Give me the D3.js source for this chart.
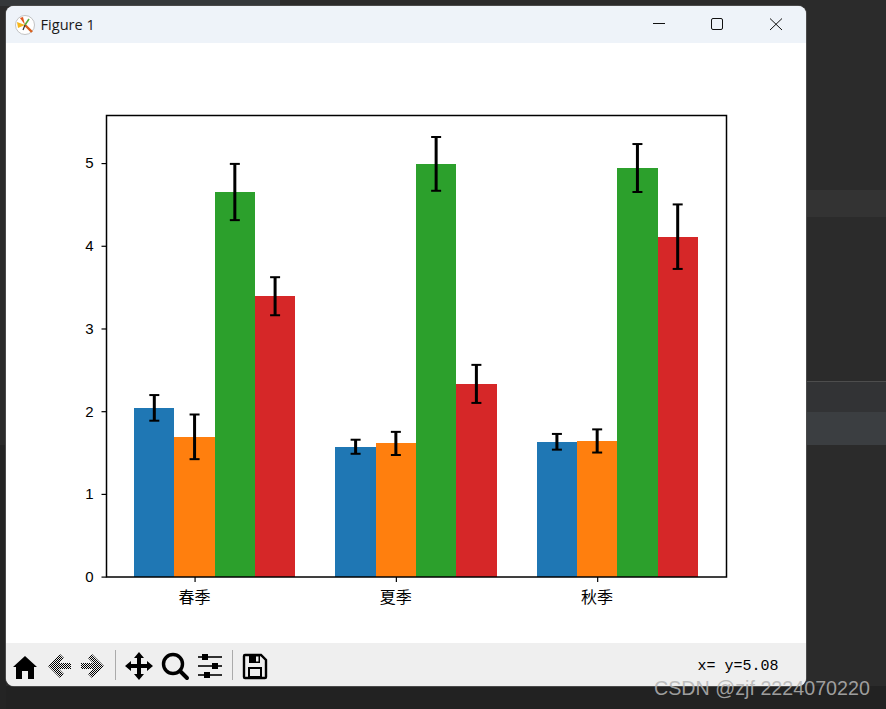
<!DOCTYPE html>
<html><head><meta charset="utf-8">
<style>html,body{margin:0;padding:0;background:#2b2b2b;overflow:hidden}svg{display:block}</style>
<script src="https://cdn.jsdelivr.net/npm/d3@7/dist/d3.min.js"></script></head>
<body><svg id="c" width="886" height="709"></svg>
<script>
const categories = ["春季","夏季","秋季"];
const seriesColors = ["#1f77b4","#ff7f0e","#2ca02c","#d62728"];
const series1 = [2.04,1.57,1.63];
const series2 = [1.69,1.61,1.64];
const series3 = [4.65,4.99,4.94];
const series4 = [3.39,2.33,4.11];
const err1 = [0.155,0.085,0.095];
const err2 = [0.27,0.14,0.14];
const err3 = [0.34,0.325,0.29];
const err4 = [0.23,0.23,0.39];
const seriesValues = [series1,series2,series3,series4];
const seriesErrors = [err1,err2,err3,err4];
const barOffsets = [-0.2,0,0.2,0.4];
const barWidth = 0.2;
const yTicks = [0,1,2,3,4,5];

const svg = d3.select("#c");
// surrounding desktop
svg.append("rect").attr("width",886).attr("height",709).attr("fill","#2b2b2b");
svg.append("rect").attr("x",806).attr("y",190).attr("width",80).attr("height",27).attr("fill","#333333");
svg.append("rect").attr("x",806).attr("y",381).attr("width",80).attr("height",31).attr("fill","#323335");
svg.append("rect").attr("x",806).attr("y",412).attr("width",80).attr("height",33).attr("fill","#3b3e41");
svg.append("rect").attr("x",806).attr("y",381).attr("width",80).attr("height",1).attr("fill","#4d4d4d");
svg.append("rect").attr("x",0).attr("y",686).attr("width",886).attr("height",23).attr("fill","#222222");
svg.append("rect").attr("x",0).attr("y",445).attr("width",6).attr("height",264).attr("fill","#242424");
svg.append("rect").attr("x",0).attr("y",0).attr("width",280).attr("height",6).attr("fill","#35383a");
// window
const clip = svg.append("defs").append("clipPath").attr("id","win");
clip.append("rect").attr("x",6).attr("y",6).attr("width",800).attr("height",680).attr("rx",8);
svg.append("rect").attr("x",5).attr("y",5).attr("width",802).attr("height",682).attr("rx",9).attr("fill","#4a4a4a");
const win = svg.append("g").attr("clip-path","url(#win)");
win.append("rect").attr("x",6).attr("y",6).attr("width",800).attr("height",680).attr("fill","#ffffff");
win.append("rect").attr("x",6).attr("y",6).attr("width",800).attr("height",37).attr("fill","#eef3f9");
win.append("rect").attr("x",6).attr("y",643).attr("width",800).attr("height",43).attr("fill","#efefef");
// title bar
const ic = svg.append("g").attr("transform","translate(25,25)");
ic.append("circle").attr("r",9.5).attr("fill","#fff").attr("stroke","#aaa").attr("stroke-width",.7);
ic.append("path").attr("d","M0,0L-5,-7L-2,-8Z").attr("fill","#e0561b");
ic.append("path").attr("d","M0,0L-8,-3L-7,3Z").attr("fill","#f6b61c");
ic.append("path").attr("d","M0,0L7,7").attr("stroke","#d8601f").attr("stroke-width",2.4);
ic.append("path").attr("d","M0,0L4,-6").attr("stroke","#5aae3a").attr("stroke-width",1.6);
ic.append("path").attr("d","M0,0L-2,5").attr("stroke","#333").attr("stroke-width",1.2);
svg.append("text").attr("x",40.5).attr("y",30).attr("font-family","'Open Sans','Noto Sans',sans-serif").attr("font-size",14.6).attr("fill","#1a1a1a").text("Figure 1");
svg.append("path").attr("d","M653,23.5H665").attr("stroke","#111").attr("stroke-width",1);
svg.append("rect").attr("x",711.5).attr("y",18.5).attr("width",11).attr("height",11).attr("rx",1.5).attr("fill","none").attr("stroke","#111").attr("stroke-width",1);
svg.append("path").attr("d","M770,18.5L782,30M782,18.5L770,30").attr("stroke","#111").attr("stroke-width",1);

// chart
const x = d3.scaleLinear().domain([-0.44,2.64]).range([106,726]);
const y = d3.scaleLinear().domain([0,5.58]).range([576.6,115.1]);
const g = svg.append("g");
seriesValues.forEach((vals,s)=>{
  g.selectAll(null).data(vals).join("rect")
    .attr("x",(d,i)=>x(i+barOffsets[s]-barWidth/2))
    .attr("width",x(barWidth)-x(0))
    .attr("y",d=>y(d)).attr("height",d=>y(0)-y(d))
    .attr("fill",seriesColors[s]).attr("shape-rendering","crispEdges");
});
seriesValues.forEach((vals,s)=>{
  vals.forEach((v,i)=>{
    const e=seriesErrors[s][i], cx=x(i+barOffsets[s]);
    g.append("line").attr("x1",cx).attr("x2",cx).attr("y1",y(v-e)).attr("y2",y(v+e)).attr("stroke","#000").attr("stroke-width",3);
    [v-e,v+e].forEach(k=>g.append("line").attr("x1",cx-5).attr("x2",cx+5).attr("y1",y(k)).attr("y2",y(k)).attr("stroke","#000").attr("stroke-width",2));
  });
});
svg.append("rect").attr("x",106.5).attr("y",115.5).attr("width",620).attr("height",461.5).attr("fill","none").attr("stroke","#000").attr("stroke-width",1.5);
const yAxis = d3.axisLeft(y).tickValues(yTicks).tickSize(5).tickPadding(8).tickFormat(d3.format("d"));
const ya = svg.append("g").attr("transform","translate(106.5,0)").call(yAxis);
ya.select(".domain").remove();
ya.selectAll("text").attr("font-family","'Liberation Sans',Arial,sans-serif").attr("font-size",15).attr("fill","#000");
const xAxis = d3.axisBottom(x).tickValues(d3.range(categories.length)).tickSize(5).tickPadding(10).tickFormat(i=>categories[i]);
const xa = svg.append("g").attr("transform","translate(0,577)").call(xAxis);
xa.select(".domain").remove();
xa.selectAll("text").attr("font-family","'Noto Sans CJK SC',sans-serif").attr("font-size",16).attr("fill","#000").attr("dx",-0.6);
svg.selectAll(".tick line").attr("stroke","#000").attr("stroke-width",1.2);

// toolbar
const tb = svg.append("g");
tb.append("path").attr("d","M25,656L13,667L16,667L16,679L22,679L22,671L28,671L28,679L34,679L34,667L37,667Z").attr("fill","#000");
const dots = svg.select("defs").append("pattern").attr("id","dith").attr("width",2).attr("height",2).attr("patternUnits","userSpaceOnUse");
dots.append("rect").attr("width",1).attr("height",1).attr("fill","#000");
dots.append("rect").attr("x",1).attr("y",1).attr("width",1).attr("height",1).attr("fill","#000");
tb.append("path").attr("d","M60,654L48,666L60,678L64,674L59,669L71,669L71,663L59,663L64,658Z").attr("fill","url(#dith)");
tb.append("path").attr("d","M92,654L104,666L92,678L88,674L93,669L81,669L81,663L93,663L88,658Z").attr("fill","url(#dith)");
tb.append("rect").attr("x",115).attr("y",650).attr("width",1).attr("height",30).attr("fill","#aaa");
tb.append("rect").attr("x",232).attr("y",650).attr("width",1).attr("height",30).attr("fill","#aaa");
tb.append("path").attr("d","M139,652L144,658L141,658L141,664L147,664L147,661L153,666L147,671L147,668L141,668L141,674L144,674L139,680L134,674L137,674L137,668L131,668L131,671L125,666L131,661L131,664L137,664L137,658L134,658Z").attr("fill","#000");
tb.append("circle").attr("cx",173).attr("cy",664).attr("r",9.5).attr("fill","none").attr("stroke","#000").attr("stroke-width",3.4);
tb.append("path").attr("d","M180,671L187,678").attr("stroke","#000").attr("stroke-width",4).attr("stroke-linecap","round");
[[657,205],[666,215],[675,207]].forEach(([yy,kx])=>{
  tb.append("path").attr("d",`M198,${yy}H222`).attr("stroke","#000").attr("stroke-width",1.6);
  tb.append("rect").attr("x",kx-3).attr("y",yy-3).attr("width",6).attr("height",6).attr("fill","#000");
});
tb.append("path").attr("d","M245,655H261L266,660V677Q266,678 265,678H245Q244,678 244,677V656Q244,655 245,655Z").attr("fill","none").attr("stroke","#000").attr("stroke-width",2.4);
tb.append("rect").attr("x",249).attr("y",655).attr("width",11).attr("height",8).attr("fill","#000");
tb.append("rect").attr("x",256).attr("y",656.5).attr("width",2.5).attr("height",5).attr("fill","#efefef");
tb.append("rect").attr("x",249).attr("y",668).attr("width",12).attr("height",9).attr("fill","none").attr("stroke","#000").attr("stroke-width",2);
svg.append("text").attr("x",697.5).attr("y",670).attr("font-family","'Liberation Mono',monospace").attr("font-size",15).attr("fill","#000").attr("xml:space","preserve").text("x= y=5.08");
svg.append("text").attr("x",654).attr("y",695).attr("font-family","'Liberation Sans',Arial,sans-serif").attr("font-size",19.7).attr("fill","#b4b4b4").attr("fill-opacity",.85).text("CSDN @zjf 2224070220");
</script></body></html>
